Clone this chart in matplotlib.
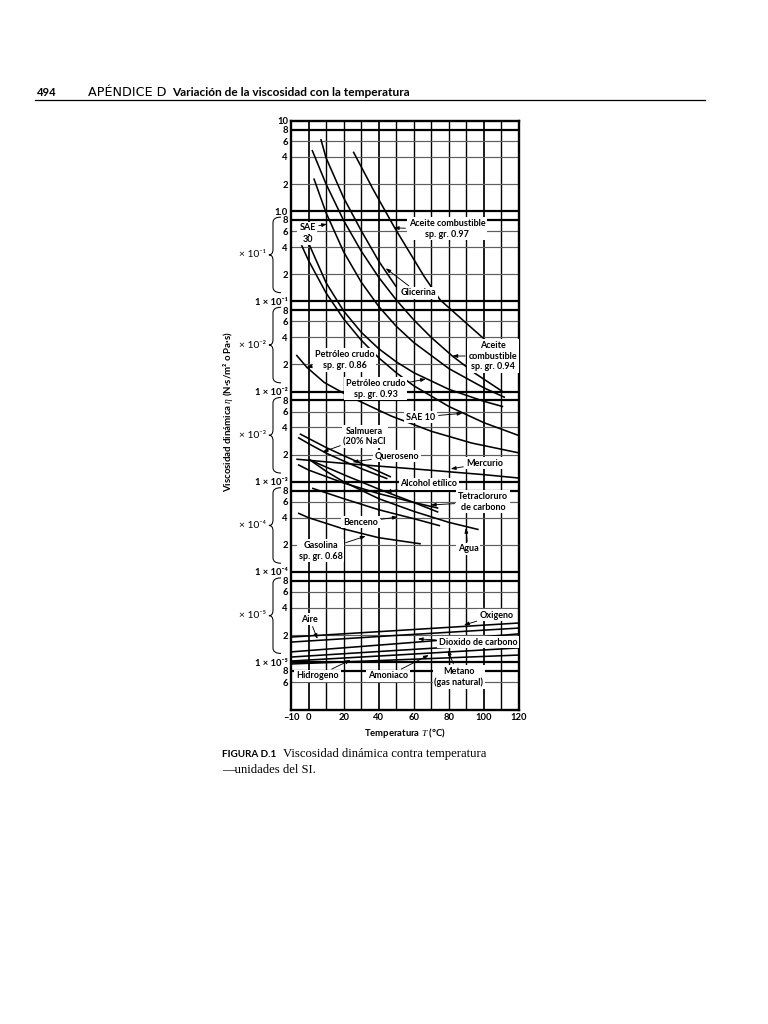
import numpy as np
import matplotlib
matplotlib.use("Agg")
import matplotlib.pyplot as plt
import matplotlib.transforms as mtransforms
from matplotlib.path import Path
from matplotlib.patches import PathPatch
from matplotlib.lines import Line2D
from matplotlib.ticker import NullLocator

plt.rcParams['font.family'] = ['Lato', 'DejaVu Sans']
plt.rcParams['mathtext.fontset'] = 'custom'
plt.rcParams['mathtext.rm'] = 'Lato'
plt.rcParams['mathtext.bf'] = 'Lato:bold'
plt.rcParams['mathtext.it'] = 'Liberation Serif:italic'
plt.rcParams['mathtext.default'] = 'bf'

# ---- datos (T en grados C, viscosidad en Pa.s) ----
t_sae30 = [3, 10, 20, 30, 40, 50, 60, 80, 100, 112]
v_sae30 = [2.31, 0.96, 0.355, 0.164, 0.088, 0.053, 0.035, 0.018, 0.011, 0.0086]

t_glic = [7, 10, 20, 30, 40, 50]
v_glic = [6.3, 3.9, 1.41, 0.61, 0.28, 0.145]

t_ac97 = [25.5, 37, 49, 66, 75, 91, 121]
v_ac97 = [4.57, 1.72, 0.66, 0.188, 0.104, 0.055, 0.0168]

t_ac94 = [2, 10, 20, 30, 40, 50, 60, 70, 82, 95, 111]
v_ac94 = [4.77, 2.0, 0.79, 0.362, 0.185, 0.104, 0.0624, 0.0398, 0.0248, 0.0159, 0.0099]

t_cr93 = [0, 10, 20, 30, 40, 50, 60, 80, 100, 111]
v_cr93 = [0.444, 0.161, 0.0783, 0.0456, 0.0299, 0.0214, 0.0162, 0.0106, 0.0078, 0.0068]

t_cr86 = [-7, -1, 9, 24, 47, 70, 93, 121]
v_cr86 = [0.0255, 0.0186, 0.0126, 0.0087, 0.00537, 0.00363, 0.00269, 0.00207]

t_sae10 = [-4, 0, 10, 20, 30, 40, 50, 60, 80, 100, 120]
v_sae10 = [0.42, 0.284, 0.124, 0.064, 0.0372, 0.0237, 0.0162, 0.0116, 0.00684, 0.00452, 0.00325]

t_salm = [-6, 0, 10, 20, 30, 45]
v_salm = [3.1e-3, 2.65e-3, 2.08e-3, 1.7e-3, 1.4e-3, 1.08e-3]

t_quer = [-5, 10, 20, 30, 47]
v_quer = [3.4e-3, 2.4e-3, 1.95e-3, 1.6e-3, 1.13e-3]

t_merc = [-7, 20, 60, 100, 120]
v_merc = [1.78e-3, 1.6e-3, 1.39e-3, 1.2e-3, 1.1e-3]

t_agua = [0, 10, 20, 40, 60, 80, 97]
v_agua = [1.79e-3, 1.31e-3, 1.0e-3, 6.5e-4, 4.7e-4, 3.55e-4, 2.95e-4]

t_alc = [0, 20, 40, 60, 74]
v_alc = [1.77e-3, 1.2e-3, 8.3e-4, 5.9e-4, 4.6e-4]

t_tetra = [-6, 0, 20, 40, 60, 74]
v_tetra = [1.55e-3, 1.35e-3, 9.7e-4, 7.4e-4, 5.9e-4, 5.1e-4]

t_benc = [2, 20, 40, 60, 75]
v_benc = [8.5e-4, 6.5e-4, 4.9e-4, 3.9e-4, 3.25e-4]

t_gaso = [-6, 0, 20, 40, 64]
v_gaso = [4.5e-4, 4.0e-4, 3.0e-4, 2.4e-4, 2.05e-4]

t_gas = [-10, 50, 120]
v_oxi = [1.90e-5, 2.24e-5, 2.72e-5]
v_aire = [1.67e-5, 1.98e-5, 2.39e-5]
v_co2 = [1.30e-5, 1.60e-5, 2.06e-5]
v_metano = [1.14e-5, 1.35e-5, 1.63e-5]
v_amon = [1.03e-5, 1.20e-5, 1.44e-5]
v_hidro = [0.955e-5, 1.06e-5, 1.20e-5]

curvas = [
    (t_sae30, v_sae30), (t_glic, v_glic), (t_ac97, v_ac97), (t_ac94, v_ac94),
    (t_cr93, v_cr93), (t_cr86, v_cr86), (t_sae10, v_sae10),
    (t_salm, v_salm), (t_quer, v_quer), (t_merc, v_merc), (t_agua, v_agua),
    (t_alc, v_alc), (t_tetra, v_tetra), (t_benc, v_benc), (t_gaso, v_gaso),
    (t_gas, v_oxi), (t_gas, v_aire), (t_gas, v_co2), (t_gas, v_metano),
    (t_gas, v_amon), (t_gas, v_hidro),
]

# etiquetas: texto, posicion del texto (T, v), punta de flecha (T, v)
etiquetas = [
    ("SAE", (-0.6, 0.652), (10.5, 0.72)),
    ("Aceite combustible\nsp. gr. 0.97", (78.9, 0.635), (48.6, 0.652)),
    ("Glicerina", (62.5, 0.124), (44, 0.233)),
    ("Aceite\ncombustible\nsp. gr. 0.94", (105, 0.0248), (82, 0.0248)),
    ("Petróleo crudo\nsp. gr. 0.86", (20.6, 0.0224), (-1.1, 0.0186)),
    ("Petróleo crudo\nsp. gr. 0.93", (38.3, 0.0107), (66.9, 0.0138)),
    ("SAE 10", (64, 5.22e-3), (87.8, 5.75e-3)),
    ("Salmuera\n(20% NaCl", (32, 3.14e-3), (8, 2.14e-3)),
    ("Queroseno", (50.3, 1.93e-3), (25.1, 1.66e-3)),
    ("Mercurio", (100.6, 1.61e-3), (81.1, 1.39e-3)),
    ("Alcohol etílico", (68.6, 9.46e-4), (44, 7.71e-4)),
    ("Tetracloruro\nde carbono", (99.4, 5.97e-4), (69.7, 5.53e-4)),
    ("Benceno", (29.7, 3.58e-4), (50.9, 4.07e-4)),
    ("Agua", (90.9, 1.8e-4), (89.7, 3.08e-4)),
    ("Gasolina\nsp. gr. 0.68", (6.9, 1.71e-4), (32.6, 2.5e-4)),
    ("Aire", (0.6, 3.01e-5), (5.1, 1.81e-5)),
    ("Oxigeno", (107.4, 3.33e-5), (88.6, 2.58e-5)),
    ("Dioxido de carbono", (96.6, 1.67e-5), (62.3, 1.81e-5)),
    ("Metano\n(gas natural)", (85.7, 6.86e-6), (79.4, 1.36e-5)),
    ("Amoniaco", (45.1, 7.03e-6), (68.6, 1.2e-5)),
    ("Hidrogeno", (5.1, 7.03e-6), (24, 1.06e-5)),
]

xticks = [-10, 0, 20, 40, 60, 80, 100, 120]
xtick_labels = ["–10", "0", "20", "40", "60", "80", "100", "120"]
vlines = list(range(0, 120, 10))
exps = [1, 2, 3, 4, 5]
sup = {1: "¹", 2: "²", 3: "³", 4: "⁴", 5: "⁵"}

W, H = 768, 1024
fig = plt.figure(figsize=(W / 100, H / 100), dpi=100)
ax = fig.add_axes([291 / W, 1 - 710 / H, 228 / W, 589 / H])
ax.set_yscale('log')
ax.set_xlim(-10, 120)
ax.set_ylim(2.95e-6, 10)

# rejilla
for t in vlines:
    ax.axvline(t, color='black', lw=1.25 if t in (0, 40, 100) else 1.0, zorder=1)
for n in range(0, -7, -1):
    for k in [1, 2, 4, 6, 8]:
        v = k * 10.0 ** n
        if n == -6 and k < 6:
            continue
        if k in (1, 8):
            ax.axhline(v, color='black', lw=1.6, zorder=1)
        else:
            ax.axhline(v, color='#5e5e5e', lw=0.85, zorder=1)

for t, v in curvas:
    ax.plot(t, v, color='black', lw=1.15, zorder=3, solid_capstyle='butt')

for txt, pos, tip in etiquetas:
    ax.annotate(txt, xy=tip, xytext=pos, ha='center', va='center',
                fontsize=6.5, fontweight='bold', linespacing=1.2, zorder=6,
                bbox=dict(boxstyle='square,pad=0.2', fc='white', ec='none'),
                arrowprops=dict(arrowstyle='-|>,head_length=0.45,head_width=0.16',
                                lw=0.65, color='black', shrinkA=1, shrinkB=0))
ax.text(-0.6, 0.48, "30", ha='center', va='center', fontsize=6.5,
        fontweight='bold', zorder=6,
        bbox=dict(boxstyle='square,pad=0.1', fc='white', ec='none'))

# ejes y marcas
ax.set_xticks(xticks, xtick_labels)
yvals, ylabs = [10, 8, 6, 4, 2, 1], ["10", "8", "6", "4", "2", "1.0"]
for n in exps:
    for k in [8, 6, 4, 2]:
        yvals.append(k * 10.0 ** -n)
        ylabs.append(str(k))
    yvals.append(10.0 ** -n)
    ylabs.append("1 × 10⁻" + sup[n])
yvals += [8e-6, 6e-6]
ylabs += ["8", "6"]
ax.set_yticks(yvals, ylabs)
ax.yaxis.set_minor_locator(NullLocator())
ax.tick_params(length=0, labelsize=6.8, pad=2.2)
for lab in ax.get_xticklabels() + ax.get_yticklabels():
    lab.set_fontweight('bold')
for s in ax.spines.values():
    s.set_linewidth(1.7)
    s.set_zorder(4)
ax.set_xlabel(r"Temperatura $\mathit{T}$ (°C)", fontsize=6.8,
              fontweight='bold', labelpad=2.5)

# llaves de cada decada
trans = mtransforms.blended_transform_factory(ax.transAxes, ax.transData)
x_end, x_sp, x_tip = -0.044, -0.079, -0.097
for n in exps:
    lt = np.log10(10.0 ** -(n - 1) * 0.86)
    lb = np.log10(10.0 ** -n * 1.25)
    lm = 0.5 * (lt + lb)
    r = 0.06
    pts = [(x_end, lt), (x_sp, lt), (x_sp, lt - r), (x_sp, lm + r),
           (x_sp, lm), (x_tip, lm), (x_sp, lm), (x_sp, lm - r),
           (x_sp, lb + r), (x_sp, lb), (x_end, lb)]
    codes = [Path.MOVETO, Path.CURVE3, Path.CURVE3, Path.LINETO,
             Path.CURVE3, Path.CURVE3, Path.CURVE3, Path.CURVE3,
             Path.LINETO, Path.CURVE3, Path.CURVE3]
    verts = [(x, 10 ** l) for x, l in pts]
    ax.add_patch(PathPatch(Path(verts, codes), transform=trans, fc='none',
                           ec='black', lw=0.75, clip_on=False))
    ax.text(x_tip - 0.012, 10 ** lm, "× 10⁻" + sup[n],
            transform=trans, ha='right', va='center', fontsize=7.3)

fig.text(228 / W, 1 - 412 / H,
         r"Viscosidad dinámica $\mathit{\eta}$ (N·s/m² o Pa·s)",
         rotation=90, ha='center', va='center', fontsize=6.9, fontweight='bold')

# encabezado de pagina
fig.text(37 / W, 1 - 96 / H, "494", fontsize=8, fontweight='bold', va='baseline')
fig.text(88 / W, 1 - 96 / H, "APÉNDICE D", fontsize=9.2, family='DejaVu Sans',
         va='baseline')
fig.text(172 / W, 1 - 96 / H, "Variación de la viscosidad con la temperatura",
         fontsize=8.6, fontweight='bold', va='baseline')
fig.add_artist(Line2D([35 / W, 705 / W], [1 - 100 / H, 1 - 100 / H],
                      lw=0.9, color='black'))

# pie de figura
fig.text(222 / W, 1 - 757 / H, "FIGURA D.1", fontsize=7.1, fontweight='bold',
         va='baseline')
fig.text(283 / W, 1 - 757 / H, "Viscosidad dinámica contra temperatura",
         fontsize=9.1, family='Liberation Serif', va='baseline')
fig.text(222 / W, 1 - 773 / H, "—unidades del SI.", fontsize=9.1,
         family='Liberation Serif', va='baseline')

fig.savefig("out.png", dpi=100, facecolor='white')
